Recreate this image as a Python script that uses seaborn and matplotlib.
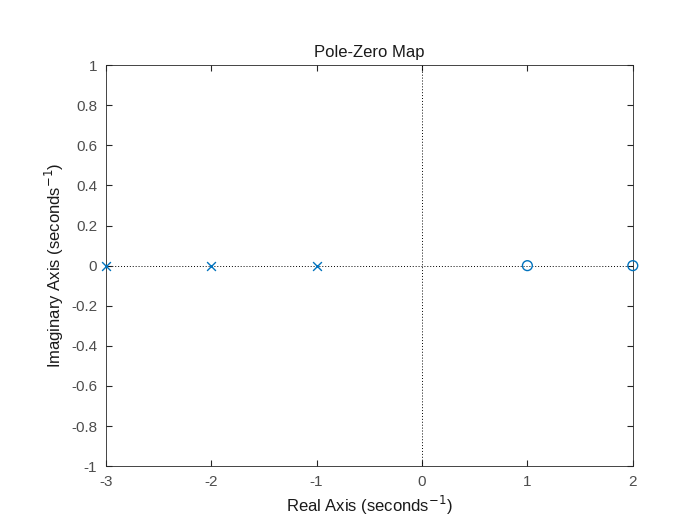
import matplotlib
matplotlib.use("Agg")
import matplotlib.pyplot as plt
import seaborn as sns
import pandas as pd

poles_re = [-3, -2, -1]
poles_im = [0, 0, 0]
zeros_re = [1, 2]
zeros_im = [0, 0]
x_ticks = [-3, -2, -1, 0, 1, 2]
y_ticks = [-1, -0.8, -0.6, -0.4, -0.2, 0, 0.2, 0.4, 0.6, 0.8, 1]

sns.set_style("white")
plt.rcParams["font.family"] = ["Liberation Sans", "DejaVu Sans"]
plt.rcParams["axes.unicode_minus"] = False

fig = plt.figure(figsize=(7, 5.25), dpi=100)
ax = fig.add_axes([0.151, 0.112, 0.753, 0.764])
blue = "#0072BD"
ax.axhline(0, color="black", linestyle=(0, (1, 2)), linewidth=0.7, zorder=1)
ax.axvline(0, color="black", linestyle=(0, (1, 2)), linewidth=0.7, zorder=1)
poles = pd.DataFrame({"re": poles_re, "im": poles_im})
zeros = pd.DataFrame({"re": zeros_re, "im": zeros_im})
sns.scatterplot(data=poles, x="re", y="im", marker="x", color=blue, s=40, linewidth=1, ax=ax, zorder=3, clip_on=False)
ax.scatter(zeros["re"], zeros["im"], marker="o", facecolors="none", edgecolors=blue, s=50, linewidth=1, zorder=3, clip_on=False)

ax.set_xlim(-3, 2)
ax.set_ylim(-1, 1)
ax.set_xticks(x_ticks)
ax.set_xticklabels([f"{v:g}" for v in x_ticks])
ax.set_yticks(y_ticks)
ax.set_yticklabels([f"{v:g}" for v in y_ticks])
ax.tick_params(direction="in", length=4, colors="#262626", labelcolor="#4d4d4d", labelsize=11, top=True, right=True,
               bottom=True, left=True, pad=6)
for s in ax.spines.values():
    s.set_color("#262626")
    s.set_linewidth(0.6)
ax.set_xlabel("Real Axis (seconds$^{-1}$)", fontsize=12, color="#1a1a1a")
ax.set_ylabel("Imaginary Axis (seconds$^{-1}$)", fontsize=12, color="#1a1a1a")
ax.set_title("Pole-Zero Map", fontsize=12, color="#1a1a1a")
fig.savefig("out.png", dpi=100)
